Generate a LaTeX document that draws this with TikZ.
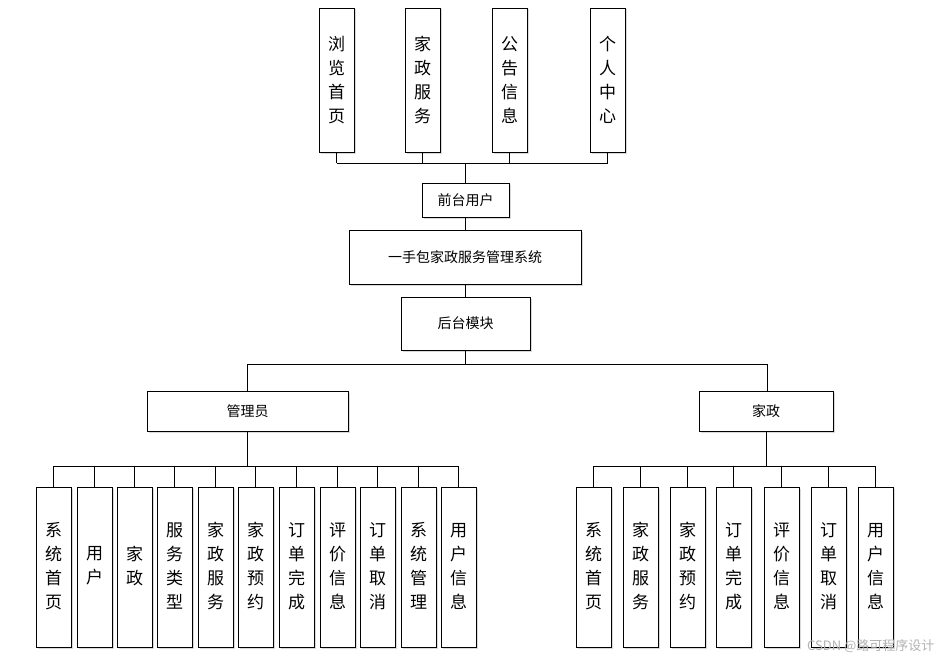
\documentclass[tikz,border=0pt]{standalone}
\usepackage{fontspec}
\setmainfont{Noto Sans CJK SC}
\usetikzlibrary{shadows}
\begin{document}
\begin{tikzpicture}[x=1pt,y=-1pt,
 box/.style={draw=black,fill=white,line width=0.8pt,drop shadow={shadow xshift=1.5pt,shadow yshift=-1.5pt,opacity=0.3}},
 vt/.style={font=\fontsize{17}{24}\selectfont,align=center},
 ht/.style={font=\fontsize{14}{16}\selectfont},
 ln/.style={line width=0.8pt}]
\useasboundingbox (0,0) rectangle (942,661);
% top
\foreach \n/\x/\t in {t1/319/浏\\览\\首\\页,t2/405/家\\政\\服\\务,t3/492/公\\告\\信\\息,t4/590/个\\人\\中\\心}{
 \draw[box] (\x,8) rectangle (\x+35,152);
 \node[vt] (\n) at (\x+17.5,80) {\t};
 \draw[ln] (\x+17.5,152) -- (\x+17.5,163);}
\draw[ln] (336.5,163) -- (607.5,163);
\draw[box] (422,183) rectangle (509,217); \node[ht] (front) at (465.5,200) {前台用户};
\draw[ln] (465,163) -- (465,183);
\draw[ln] (465,217) -- (465,230);
\draw[box] (349,230) rectangle (581,284); \node[ht] (sys) at (465,257) {一手包家政服务管理系统};
\draw[ln] (465,284) -- (465,297);
\draw[box] (401,297) rectangle (530,350); \node[ht] (back) at (465.5,323.5) {后台模块};
\draw[ln] (465,350) -- (465,364);
\draw[ln] (247,364) -- (767,364);
\draw[ln] (247,364) -- (247,391);
\draw[ln] (767,364) -- (767,391);
\draw[box] (147,391) rectangle (348,431); \node[ht] (admin) at (247.5,411) {管理员};
\draw[box] (699,391) rectangle (833,431); \node[ht] (jz) at (766,411) {家政};
% admin children
\draw[ln] (247,431) -- (247,466);
\draw[ln] (53.5,466) -- (458.5,466);
\foreach \n/\x/\t in {a1/36/系\\统\\首\\页,a2/77/用\\户,a3/117/家\\政,a4/157/服\\务\\类\\型,a5/198/家\\政\\服\\务,a6/238/家\\政\\预\\约,a7/279/订\\单\\完\\成,a8/320/评\\价\\信\\息,a9/360/订\\单\\取\\消,a10/401/系\\统\\管\\理,a11/441/用\\户\\信\\息}{
 \draw[ln] (\x+17.5,466) -- (\x+17.5,487);
 \draw[box] (\x,487) rectangle (\x+35,647);
 \node[vt] (\n) at (\x+17.5,566) {\t};}
% jiazheng children
\draw[ln] (766,431) -- (766,466);
\draw[ln] (593.5,466) -- (875.5,466);
\foreach \n/\x/\t in {b1/576/系\\统\\首\\页,b2/623/家\\政\\服\\务,b3/670/家\\政\\预\\约,b4/716/订\\单\\完\\成,b5/764/评\\价\\信\\息,b6/811/订\\单\\取\\消,b7/858/用\\户\\信\\息}{
 \draw[ln] (\x+17.5,466) -- (\x+17.5,487);
 \draw[box] (\x,487) rectangle (\x+35,647);
 \node[vt] (\n) at (\x+17.5,566) {\t};}
\node[font=\fontsize{13}{15}\selectfont,text=gray!60,anchor=east] (wm) at (938,646) {CSDN @路可程序设计};
\end{tikzpicture}
\end{document}
